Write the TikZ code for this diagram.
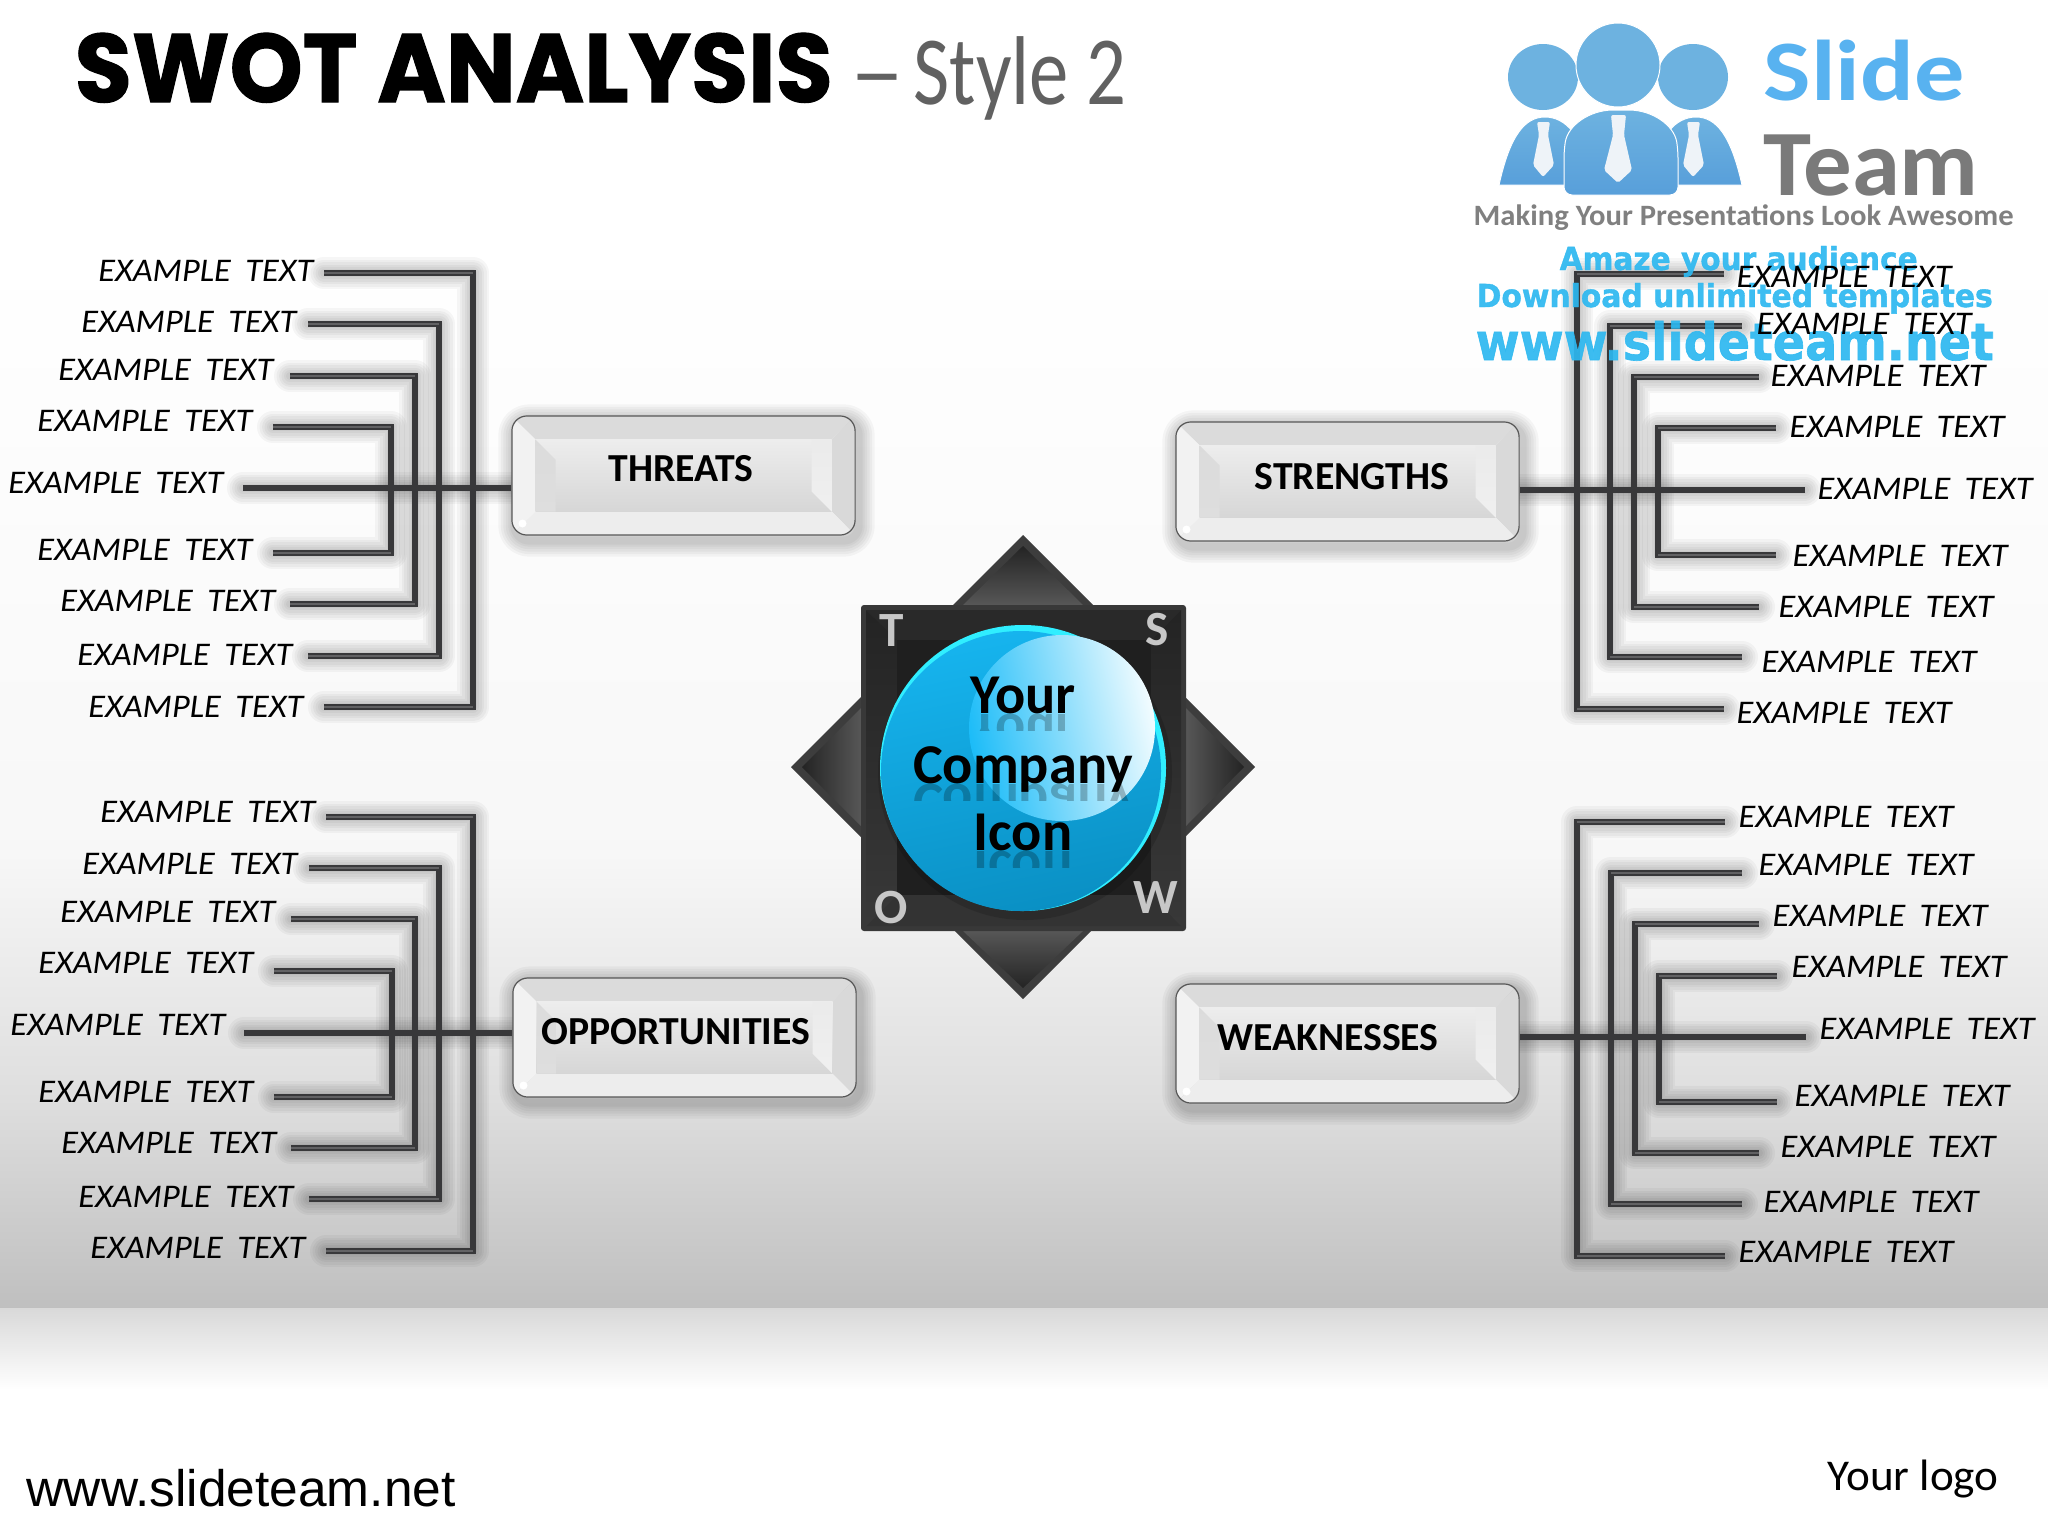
\documentclass[tikz,border=0pt]{standalone}
\usepackage{fontspec}
\usepackage{tikz}
\usetikzlibrary{backgrounds}
\setmainfont{Carlito}
\newfontfamily\titlefont{Poppins}[BoldFeatures={FakeBold=1.2}]
\newfontfamily\arialfont{Liberation Sans}
\newfontfamily\markfont{DejaVu Sans}[BoldFeatures={FakeBold=1.2}]

\definecolor{linkgray}{HTML}{38383A}
\definecolor{linkedge}{HTML}{626264}
\definecolor{markblue}{HTML}{2DB8F0}
\definecolor{logoblue}{HTML}{6DB2E0}
\definecolor{logodeep}{HTML}{589FDA}
\definecolor{slideblue}{HTML}{58B2F0}
\definecolor{tiewhite}{HTML}{EEF3F8}
\definecolor{sphererim}{HTML}{30EEFF}
\definecolor{spheretop}{HTML}{16B4EE}
\definecolor{spherelow}{HTML}{0A90C4}
\definecolor{glossbase}{HTML}{1CBCF8}
\definecolor{glosstop}{HTML}{F2FCFF}

\newlength{\pxunit}
\setlength{\pxunit}{0.01cm}
\newcommand{\fitw}[2]{\resizebox{#1\pxunit}{\height}{#2}}
\newcommand{\exampletext}{\fitw{215}{\itshape EXAMPLE\hspace{.42em}TEXT}}
\newcommand{\bracketlist}{ta/324/473/273/707,tb/308/439/324/656,tc/290/415/376/604,td/273/391/427/553,
	oa/326/473/817/1251,ob/309/439/868/1199,oc/291/415/919/1148,od/274/392/971/1097,
	sa/1724/1577/274/709,sb/1742/1610/326/657,sc/1759/1634/377/607,sd/1776/1658/428/555,
	wa/1725/1577/822/1256,wb/1742/1611/873/1204,wc/1759/1635/924/1153,wd/1777/1659/976/1102}

\tikzset{
	exlabel/.style={inner sep=0pt,text=black,font=\fontsize{9.4}{11}\selectfont},
	keybox/.style={draw=black!66,line width=0.012cm,rounded corners=0.15cm,minimum width=3.43cm,minimum height=1.19cm,inner sep=0pt},
	keylabel/.style={inner sep=0pt,font=\fontsize{11.3}{13}\bfseries\selectfont},
	corner/.style={inner sep=0pt,text=black!22,font=\fontsize{14}{16}\bfseries\selectfont},
	company/.style={inner sep=0pt,anchor=base,font=\fontsize{16}{18}\bfseries\selectfont},
	link/.style={draw=linkgray,line width=0.052cm},
	linkshine/.style={draw=linkedge,line width=0.014cm},
	glow/.style={draw=black,draw opacity=0.036,line width=#1*0.01cm,line cap=round,line join=round},
	markline/.style={inner sep=0pt,anchor=base west,text=markblue,text opacity=0.92,font=\markfont\bfseries},
}

\begin{document}
\begin{tikzpicture}[x=0.01cm,y=-0.01cm]
	\useasboundingbox (0,0) rectangle (2048,1536);

	\foreach \n/\xa/\xb/\ya/\yb in \bracketlist {
		\coordinate(\n top) at (\xa,\ya);
		\coordinate(\n bar) at (\xb,\ya);
		\coordinate(\n bot) at (\xa,\yb);
	}
	\coordinate(threatsend) at (243,488);
	\coordinate(opportunitiesend) at (244,1033);
	\coordinate(strengthsend) at (1805,490);
	\coordinate(weaknessesend) at (1806,1037);

	\foreach \n/\cx/\cy in {threats/683.5/475.5,opportunities/684.5/1037.5,strengths/1347.5/481.5,weaknesses/1347.5/1043.5} {
		\begin{scope}[shift={(\cx,\cy)}]
			\clip[rounded corners=0.15cm] (-171.5,-59.5) rectangle (171.5,59.5);
			\fill[black!14] (-172,-60)--(172,-60)--(148,-36)--(-148,-36)--cycle;
			\fill[black!5] (-172,-60)--(-148,-36)--(-148,36)--(-172,60)--cycle;
			\fill[black!15] (172,-60)--(148,-36)--(148,36)--(172,60)--cycle;
			\fill[black!7] (-172,60)--(-148,36)--(148,36)--(172,60)--cycle;
			\shade[top color=black!7,bottom color=black!16] (-148,-36) rectangle (148,36);
			\shade[top color=black!14,bottom color=black!13] (-148,-36)--(-128,-16)--(-128,36)--(-148,36)--cycle;
			\shade[top color=black!8,bottom color=black!6] (148,36)--(128,16)--(128,-36)--(148,-36)--cycle;
			\fill[white] (-161,48) circle (4);
		\end{scope}
		\node[keybox] (\n) at (\cx,\cy) {};
	}

	\node[keylabel] (threatslabel) at (681,469) {THREATS};
	\node[keylabel] (opportunitieslabel) at (676,1032) {OPPORTUNITIES};
	\node[keylabel] (strengthslabel) at (1352,477) {STRENGTHS};
	\node[keylabel] (weaknesseslabel) at (1328,1038) {WEAKNESSES};

	\begin{pgfonlayer}{background}
		\fill[white] (0,0) rectangle (2048,251);
		\shade[top color=white,bottom color=black!3] (0,250) rectangle (2048,851);
		\shade[top color=black!3,bottom color=black!13] (0,850) rectangle (2048,1101);
		\shade[top color=black!13,bottom color=black!25] (0,1100) rectangle (2048,1308);
		\shade[top color=black!15,bottom color=white] (0,1308) rectangle (2048,1390);
		\foreach \w in {32,27,22,17,12,8} {
			\foreach \n/\xa/\xb/\ya/\yb in \bracketlist {
				\draw[glow=\w] (\n top)--(\n bar)|-(\n bot);
			}
			\draw[glow=\w] (threatsend)--(threatsend-|threats.west);
			\draw[glow=\w] (opportunitiesend)--(opportunitiesend-|opportunities.west);
			\draw[glow=\w] (strengthsend)--(strengthsend-|strengths.east);
			\draw[glow=\w] (weaknessesend)--(weaknessesend-|weaknesses.east);
			\foreach \n in {threats,opportunities,strengths,weaknesses} {
				\draw[glow=\w,rounded corners=0.15cm] ([shift={(3,5)}]\n.south west) rectangle ([shift={(3,5)}]\n.north east);
			}
		}
		\foreach \n/\xa/\xb/\ya/\yb in \bracketlist {
			\draw[link] (\n top)--(\n bar)|-(\n bot);
			\draw[linkshine,yshift=-0.012cm] (\n top)--(\n bar);
			\draw[linkshine,yshift=-0.012cm] (\n bot)--(\n bot-|\n bar);
		}
		\draw[link,line width=0.064cm] (threatsend)--(threatsend-|threats.west);
		\draw[link,line width=0.064cm] (opportunitiesend)--(opportunitiesend-|opportunities.west);
		\draw[link,line width=0.064cm] (strengthsend)--(strengthsend-|strengths.east);
		\draw[link,line width=0.064cm] (weaknessesend)--(weaknessesend-|weaknesses.east);
	\end{pgfonlayer}

	\fill[black!76] (1023,535)--(1255,767)--(1023,999)--(791,767)--cycle;
	\shade[top color=black!86,bottom color=black!66] (1023,546)--(1083,605)--(963,605)--cycle;
	\shade[top color=black!66,bottom color=black!86] (963,931)--(1083,931)--(1023,988)--cycle;
	\shade[left color=black!86,right color=black!66] (802,767)--(861,708)--(861,826)--cycle;
	\shade[left color=black!66,right color=black!86] (1186,708)--(1244,767)--(1186,826)--cycle;
	\fill[black!78,rounded corners=0.03cm] (861,605) rectangle (1186,931);
	\shade[left color=black!84,middle color=black!60,right color=black!84] (866,610)--(1181,610)--(1151,640)--(897,640)--cycle;
	\shade[left color=black!80,middle color=black!60,right color=black!80] (866,926)--(1181,926)--(1151,895)--(897,895)--cycle;
	\shade[top color=black!86,middle color=black!62,bottom color=black!78] (866,610)--(897,640)--(897,895)--(866,926)--cycle;
	\shade[top color=black!86,middle color=black!62,bottom color=black!78] (1181,610)--(1151,640)--(1151,895)--(1181,926)--cycle;
	\fill[black!88] (897,640) rectangle (1151,895);

	\fill[black,opacity=0.14] (1025,773) circle (147);
	\fill[sphererim] (1023,768) circle (143);
	\shade[top color=spheretop,bottom color=spherelow,shading angle=12] (1021,771) circle (140);
	\shade[left color=glossbase,right color=glosstop,shading angle=102] (1062,728) circle (93);

	\node[markline] (amaze) at (1559,270) {\fontsize{9}{11}\selectfont\fitw{358}{Amaze your audience}};
	\node[markline] (download) at (1476,307) {\fontsize{9}{11}\selectfont\fitw{516}{Download unlimited templates}};
	\node[markline] (website) at (1475,360) {\fontsize{14.6}{16}\selectfont\fitw{518}{www.slideteam.net}};

	\foreach \n/\x/\y in {tl1/314/271,tl2/297/322,tl3/274/370,tl4/253/421,tl5/224/483,tl6/253/550,tl7/276/601,tl8/293/655,tl9/304/707,
		ol1/316/812,ol2/298/864,ol3/276/912,ol4/254/963,ol5/226/1025,ol6/254/1092,ol7/277/1143,ol8/294/1197,ol9/306/1248} {
		\node[exlabel,anchor=east] (\n) at (\x,\y) {\exampletext};
	}
	\foreach \n/\x/\y in {sl1/1736/277,sl2/1756/324,sl3/1770/376,sl4/1789/427,sl5/1817/489,sl6/1792/556,sl7/1778/607,sl8/1761/662,sl9/1736/713,
		wl1/1738/817,wl2/1758/865,wl3/1772/916,wl4/1791/967,wl5/1819/1029,wl6/1794/1096,wl7/1780/1147,wl8/1763/1202,wl9/1738/1252} {
		\node[exlabel,anchor=west] (\n) at (\x,\y) {\exampletext};
	}

	\foreach \n/\word/\base in {your/Your/713,comp/Company/783,icon/Icon/850} {
		\begin{scope}
			\clip (880,\base) rectangle (1170,\base+17);
			\node[company,yscale=-1,text opacity=0.24] at (1023,\base+1) {\word};
		\end{scope}
		\node[company] (\n) at (1023,\base) {\word};
	}
	\node[corner] (letterT) at (892,631) {T};
	\node[corner] (letterS) at (1157,630) {S};
	\node[corner] (letterO) at (891,908) {O};
	\node[corner] (letterW) at (1156,898) {W};

	\node[inner sep=0pt,anchor=base west,font=\titlefont\bfseries\fontsize{27.6}{30}\selectfont] (title) at (74,102) {\fitw{758}{SWOT ANALYSIS}};
	\node[inner sep=0pt,anchor=base west,text=black!62,font=\fontsize{27.8}{30}\selectfont] (style) at (853,104) {\fitw{48}{---}\hspace{12\pxunit}\fitw{213}{Style 2}};
	\node[inner sep=0pt,anchor=base west,font=\arialfont\fontsize{14.6}{17}\selectfont] (site) at (26,1506) {\fitw{429}{www.slideteam.net}};
	\node[inner sep=0pt,anchor=base west,font=\fontsize{12.5}{15}\selectfont] (logo) at (1827,1490) {\fitw{171}{Your logo}};

	\shade[top color=logoblue,bottom color=logodeep,draw=white,line width=0.01cm] (1499,185) .. controls (1510,135) and (1525,117) .. (1545,117) .. controls (1565,117) and (1585,135) .. (1590,185) -- cycle;
	\shade[top color=logoblue,bottom color=logodeep,draw=white,line width=0.01cm] (1742,185) .. controls (1731,135) and (1716,117) .. (1696,117) .. controls (1676,117) and (1656,135) .. (1651,185) -- cycle;
	\fill[logoblue] (1543,77) ellipse (35 and 33);
	\fill[logoblue] (1693,77) ellipse (35 and 33);
	\fill[logoblue,draw=white,line width=0.01cm] (1618,65) circle (42);
	\shade[top color=logoblue,bottom color=logodeep,draw=white,line width=0.01cm,rounded corners=0.08cm] (1564,195)--(1564,150) .. controls (1568,125) and (1590,110) .. (1621,110) .. controls (1652,110) and (1674,125) .. (1678,150)--(1678,195)--cycle;
	\fill[tiewhite,rounded corners=0.02cm] (1611,115)--(1626,115)--(1624,135)--(1632,170)--(1618,183)--(1604,170)--(1613,135)--cycle;
	\fill[tiewhite,rounded corners=0.02cm] (1537,122)--(1550,122)--(1548,135)--(1554,165)--(1543,177)--(1533,165)--(1539,135)--cycle;
	\fill[tiewhite,rounded corners=0.02cm] (1687,122)--(1700,122)--(1698,135)--(1704,165)--(1693,177)--(1683,165)--(1689,135)--cycle;

	\node[inner sep=0pt,anchor=base west,text=slideblue,font=\fontsize{24.5}{28}\bfseries\selectfont] (slide) at (1763,100) {\fitw{201}{Slide}};
	\node[inner sep=0pt,anchor=base west,text=black!52,font=\fontsize{26.6}{29}\bfseries\selectfont] (team) at (1763,195) {\fitw{215}{Team}};
	\node[inner sep=0pt,anchor=base west,text=black!50,font=\fontsize{8.4}{10}\bfseries\selectfont] (tagline) at (1473,225) {\fitw{540}{Making Your Presentations Look Awesome}};
\end{tikzpicture}
\end{document}
